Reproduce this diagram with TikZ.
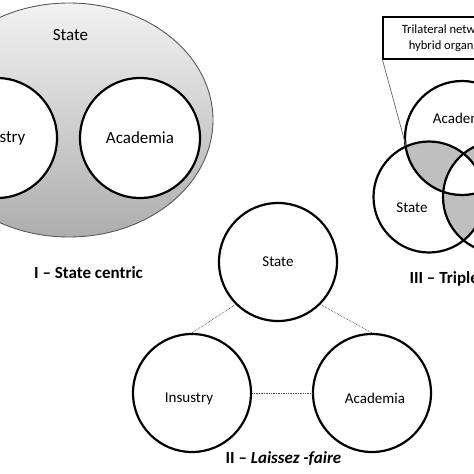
\documentclass[tikz,border=0pt]{standalone}
\usepackage{fontspec}
\setmainfont{Carlito}
\tikzset{
  ring/.style={circle, draw=black, line width=2.2pt, inner sep=0pt},
  txtI/.style={font=\fontsize{17}{20}\selectfont},
  txtII/.style={font=\fontsize{15}{18}\selectfont},
  lab/.style={font=\fontsize{17}{20}\selectfont\bfseries},
  hl/.style={fill=black!25},
  dots/.style={densely dotted, draw=black!70, line width=0.7pt}
}
\begin{document}
\begin{tikzpicture}[x=1pt,y=-1pt]
\useasboundingbox (0,0) rectangle (474,474);
\fill[white] (0,0) rectangle (474,474);
\clip (0,0) rectangle (474,474);

% ---------- I: State centric ----------
\shade[top color=black!5, bottom color=black!32, draw=black!65, line width=0.9pt]
  (69,120) ellipse [x radius=144pt, y radius=117pt];
\node[ring, fill=white, minimum size=120pt, txtI] (ind1) at (-3,138) {Industry};
\node[ring, fill=white, minimum size=120pt, txtI] (aca1) at (140,138) {Academia};
\node[txtI] (st1) at (70.5,35) {State};
\node[lab] (l1) at (88.5,273) {I \textendash{} State centric};

% ---------- II: Laissez-faire ----------
\node[ring, minimum size=118pt, txtII] (s2) at (278,262) {State};
\node[ring, minimum size=118pt] (i2) at (192,393) {};
\node[ring, minimum size=118pt] (a2) at (372,393) {};
\node[txtII] (ti2) at (189,399) {Insustry};
\node[txtII] (ta2) at (375,398) {Academia};
\draw[dots] (s2.225) -- (i2.north);
\draw[dots] (s2.-45) -- (a2.north);
\draw[dots] (i2.east) -- (a2.west);
\node[lab] (l2) at (283.5,459) {II \textendash{} \textit{Laissez -faire}};

% ---------- III: Triple helix ----------
\coordinate (A3) at (462,138);
\coordinate (S3) at (429,197);
\coordinate (I3) at (499,197);
\begin{scope}
  \clip (A3) circle[radius=57pt];
  \clip (S3) circle[radius=55.5pt];
  \fill[hl, even odd rule] (300,0) rectangle (620,400) (I3) circle[radius=56pt];
\end{scope}
\begin{scope}
  \clip (S3) circle[radius=55.5pt];
  \clip (I3) circle[radius=56pt];
  \fill[hl, even odd rule] (300,0) rectangle (620,400) (A3) circle[radius=57pt];
\end{scope}
\begin{scope}
  \clip (A3) circle[radius=57pt];
  \clip (I3) circle[radius=56pt];
  \fill[hl, even odd rule] (300,0) rectangle (620,400) (S3) circle[radius=55.5pt];
\end{scope}
\node[ring, minimum size=114pt] (ac3) at (A3) {};
\node[ring, minimum size=111pt] (sc3) at (S3) {};
\node[ring, minimum size=112pt] (ic3) at (I3) {};
\node[txtII] (ta3) at (463,118) {Academia};
\node[txtII] (ts3) at (412,208) {State};
\node[draw=black, line width=1.2pt, align=center, minimum width=155pt, minimum height=42pt,
      font=\fontsize{12.6}{16}\selectfont] (box) at (460.5,38)
      {Trilateral networks and\\hybrid organizations};
\coordinate (tip) at (406,146);
\draw[draw=black!60, line width=0.7pt] (box.south west) -- (tip);
\node[lab, anchor=west] (l3) at (406,279) {III \textendash{} Triple Helix};
\end{tikzpicture}
\end{document}
